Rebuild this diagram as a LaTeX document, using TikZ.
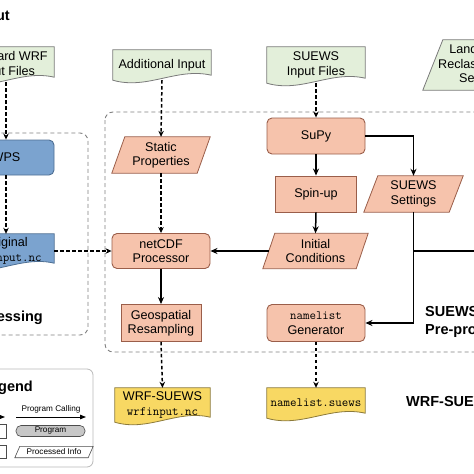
\documentclass[tikz,border=0pt]{standalone}
\usepackage{fontspec}
\setmainfont{Liberation Sans}
\usetikzlibrary{arrows.meta,calc,backgrounds}
\definecolor{gfill}{HTML}{E3EFDA}
\definecolor{gdraw}{HTML}{7A7A7A}
\definecolor{bfill}{HTML}{7BA3CF}
\definecolor{bdraw}{HTML}{4E6F93}
\definecolor{sfill}{HTML}{F6C3AC}
\definecolor{sdraw}{HTML}{9A5E4A}
\definecolor{yfill}{HTML}{F8D863}
\definecolor{ydraw}{HTML}{8C7A3A}
\definecolor{frm}{HTML}{808080}
\newcommand{\docshape}[3]{\path[fill=#2,draw=#3,line width=.8pt] (#1.north west) -- (#1.north east) -- ($(#1.south east)+(0,-5)$) .. controls ($(#1.south west)!0.65!(#1.south east)+(0,-13)$) and ($(#1.south west)!0.35!(#1.south east)+(0,10)$) .. (#1.south west) -- cycle;}
\newcommand{\parashape}[4]{\path[fill=#2,draw=#3,line width=.8pt] (#1.south west) -- ($(#1.north west)+(#4,0)$) -- (#1.north east) -- ($(#1.south east)+(-#4,0)$) -- cycle;}
\begin{document}
\begin{tikzpicture}[x=1pt,y=-1pt,
  lbl/.style={inner sep=0pt, align=center, font=\fontsize{12.6}{14.5}\selectfont},
  salrnd/.style={lbl, fill=sfill, draw=sdraw, line width=.9pt, rounded corners=5pt},
  salrect/.style={lbl, fill=sfill, draw=sdraw, line width=.9pt},
  title/.style={inner sep=0pt, font=\fontsize{14.5}{18}\selectfont\bfseries, align=left},
  small/.style={inner sep=0pt, font=\fontsize{8.2}{9}\selectfont},
  darr/.style={line width=1.5pt, dash pattern=on 3.5pt off 2.5pt, -{Stealth[length=6pt,width=5.5pt]}},
  sarr/.style={line width=1.5pt, -{Stealth[length=7pt,width=6pt]}},
  sline/.style={line width=1.5pt},
  frame/.style={draw=frm, line width=.9pt, dash pattern=on 4pt off 3pt, rounded corners=8pt}
]
\useasboundingbox (0,0) rectangle (474,474);
\clip (0,0) rectangle (474,474);

% frames
\draw[frame] (-60,133) rectangle (88,335);
\draw[frame] (105,112) rectangle (540,352);

% titles
\node[title, anchor=east] (tin) at (10,17) {Input};
\node[title, anchor=east] (twrf) at (43,318) {WRF Pre-processing};
\node[title, anchor=west] (tsu) at (425,322) {SUEWS\\Pre-processing};
\node[title, anchor=west] (tws) at (406,402) {WRF-SUEWS};

% input docs
\node[lbl, minimum width=96, minimum height=35] (std) at (6,64.5) {Standard WRF\\Input Files};
\node[lbl, minimum width=98, minimum height=30] (addin) at (162,65) {Additional Input};
\node[lbl, minimum width=98, minimum height=36] (suin) at (316,65) {SUEWS\\Input Files};
\node[lbl, minimum width=118, minimum height=50] (land) at (482,65) {Land Cover\\Reclassification\\Settings};

% WRF side
\node[lbl, fill=bfill, draw=bdraw, line width=.9pt, rounded corners=5pt, minimum width=96, minimum height=35] (wps) at (6,157.5) {WPS};
\node[lbl, minimum width=96, minimum height=34] (orig) at (6,251) {Original\\{\ttfamily wrfinput.nc}};

% SUEWS pre-processing
\node[lbl, minimum width=98, minimum height=36] (stat) at (161,155) {Static\\Properties};
\node[salrnd, minimum width=98, minimum height=36] (supy) at (316,136) {SuPy};
\node[salrect, minimum width=81, minimum height=36] (spin) at (316,194) {Spin-up};
\node[lbl, minimum width=99, minimum height=36] (sset) at (413.5,194) {SUEWS\\Settings};
\node[lbl, minimum width=105, minimum height=35] (init) at (315.5,251) {Initial\\Conditions};
\node[salrnd, minimum width=98, minimum height=35] (netcdf) at (161,251) {netCDF\\Processor};
\node[salrect, minimum width=80, minimum height=37] (geo) at (161,323) {Geospatial\\Resampling};
\node[salrnd, minimum width=98, minimum height=37] (nlgen) at (316,323) {{\ttfamily namelist}\\Generator};

% outputs
\node[lbl, minimum width=95, minimum height=34] (wsin) at (162.5,405) {WRF-SUEWS\\{\ttfamily wrfinput.nc}};
\node[lbl, minimum width=98, minimum height=30] (nlsu) at (316,403) {{\ttfamily namelist.suews}};

% legend
\begin{pgfonlayer}{background}
\draw[draw=gray!55, line width=.8pt, fill=white, rounded corners=6pt] (-60,369) rectangle (93,467);
\end{pgfonlayer}
\node[title, anchor=east] (leg) at (33,388) {Legend};
\coordinate (pc1) at (16,417);
\coordinate (pc2) at (86,417);
\draw[line width=.9pt, -{Triangle[length=6pt,width=4.5pt]}] (pc1) -- (pc2);
\node[small] (pcl) at (51,409) {Program Calling};
\coordinate (la1) at (-30,417);
\coordinate (la2) at (5,417);
\draw[line width=.9pt, -{Triangle[length=6pt,width=4.5pt]}] (la1) -- (la2);
\node[small, draw=black!70, fill=black!22, line width=.6pt, rounded corners=5pt, minimum width=69, minimum height=11] (lprog) at (50.5,431) {Program};
\node[draw=black!70, line width=.6pt, minimum width=36, minimum height=14, inner sep=0pt] (lb1) at (-12,431) {};
\node[small, minimum width=78, minimum height=11] (lproc) at (54,452) {Processed Info};
\node[draw=black!70, line width=.6pt, minimum width=36, minimum height=13, inner sep=0pt] (lb2) at (-12,451.5) {};

% background shapes
\begin{pgfonlayer}{background}
\docshape{std}{gfill}{gdraw}
\docshape{addin}{gfill}{gdraw}
\docshape{suin}{gfill}{gdraw}
\parashape{land}{gfill}{gdraw}{20}
\docshape{orig}{bfill}{bdraw}
\parashape{stat}{sfill}{sdraw}{13}
\parashape{sset}{sfill}{sdraw}{14}
\parashape{init}{sfill}{sdraw}{12}
\docshape{wsin}{yfill}{ydraw}
\docshape{nlsu}{yfill}{ydraw}
\path[fill=white,draw=black!70,line width=.6pt] (lproc.south west) -- ($(lproc.north west)+(5,0)$) -- (lproc.north east) -- ($(lproc.south east)+(-5,0)$) -- cycle;
\end{pgfonlayer}

% connectors
\coordinate (offR) at (490,251);
\draw[darr] (std.south) -- (wps.north);
\draw[darr] (wps.south) -- (orig.north);
\draw[darr] (orig.east) -- (netcdf.west);
\draw[darr] (addin.south) -- (stat.north);
\draw[darr] (stat.south) -- (netcdf.north);
\draw[sarr] (netcdf.south) -- (geo.north);
\draw[darr] (geo.south) -- (wsin.north);
\draw[darr] (suin.south) -- (supy.north);
\draw[sarr] (supy.south) -- (spin.north);
\draw[sarr] (supy.east) -| (sset.north);
\draw[sarr] (spin.south) -- (init.north);
\draw[sarr] ($(init.west)+(6,0)$) -- (netcdf.east);
\draw[sarr] (sset.south) |- (nlgen.east);
\draw[sline] (offR) -- (sset.south |- offR);
\draw[darr] (nlgen.south) -- (nlsu.north);
\end{tikzpicture}
\end{document}
